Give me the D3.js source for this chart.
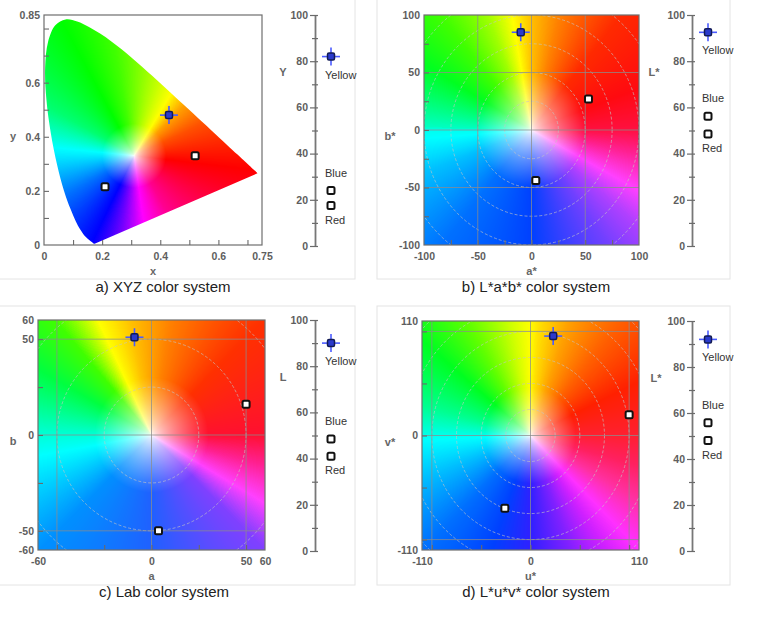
<!DOCTYPE html>
<html>
<head>
<meta charset="utf-8">
<script src="https://cdn.jsdelivr.net/npm/d3@7"></script>
<style>
  body { margin: 0; background: #fff; }
  svg { display: block; font-family: "Liberation Sans", Arial, sans-serif; }
  .tick text { font-weight: bold; fill: #5e5e5e; font-size: 10.5px; }
  .tick line { stroke: #6a6a6a; }
  .axt { font-weight: bold; fill: #666; font-size: 11px; }
  .cap { fill: #222; font-size: 15px; }
  .nm { fill: #333; font-size: 11px; }
</style>
</head>
<body>
<svg id="chart" width="768" height="620"></svg>
<script>
// ---- values ----
const samples = ["Yellow", "Blue", "Red"];

// a) CIE xy chromaticity and luminance Y
const xyX = [0.43, 0.21, 0.52];
const xyY = [0.48, 0.215, 0.33];
const lumY = [82, 24, 17.5];

// b) CIE L*a*b*
const labA = [-10, 4, 53];
const labB = [85, -44, 27];
const labL = [92.5, 56.2, 48.5];

// c) Hunter Lab
const hunA = [-9, 3.7, 50];
const hunB = [51, -50, 16];
const hunL = [90, 48.5, 41];

// d) CIE L*u*v*
const luvU = [23, -26, 100];
const luvV = [95.5, -70, 20];
const luvL = [92, 55.8, 48];

// spectral locus, 380..700 nm
const locusX = [0.1741, 0.1738, 0.1733, 0.1726, 0.1714, 0.1689, 0.1644, 0.1566, 0.1440, 0.1355, 0.1241,
  0.1096, 0.0913, 0.0687, 0.0454, 0.0235, 0.0082, 0.0039, 0.0139, 0.0389, 0.0743, 0.1142, 0.1547,
  0.1929, 0.2296, 0.2658, 0.3016, 0.3373, 0.3731, 0.4087, 0.4441, 0.4788, 0.5125, 0.5448, 0.5752,
  0.6029, 0.6270, 0.6482, 0.6658, 0.6801, 0.6915, 0.7006, 0.7079, 0.7140, 0.7190, 0.7260, 0.7300, 0.7347];
const locusY = [0.0050, 0.0049, 0.0048, 0.0048, 0.0051, 0.0069, 0.0109, 0.0177, 0.0297, 0.0399, 0.0578,
  0.0868, 0.1327, 0.2007, 0.2950, 0.4127, 0.5384, 0.6548, 0.7502, 0.8120, 0.8338, 0.8262, 0.8059,
  0.7816, 0.7543, 0.7243, 0.6923, 0.6589, 0.6245, 0.5896, 0.5547, 0.5202, 0.4866, 0.4544, 0.4242,
  0.3965, 0.3725, 0.3514, 0.3340, 0.3197, 0.3083, 0.2993, 0.2920, 0.2859, 0.2809, 0.2740, 0.2700, 0.2653];
const whitePoint = [0.31, 0.33];

// hue wheels (angle in degrees, counter-clockwise from +x)
const hueAngA = [-180, -150, -116, -100, -82, -60, -30, -7, 25, 45, 59, 80, 100, 118, 150, 174, 180];
const hueColA = ["#00e8ff", "#0070ff", "#0000ff", "#7000ff", "#ff00ff", "#ff0090", "#ff0040", "#ff0000",
  "#ff5000", "#ffa000", "#ffff00", "#a0ff00", "#40ff00", "#00ff00", "#00ff70", "#00ffff", "#00e8ff"];
const hueAngB = [-180, -176, -160, -130, -90, -55, -40, -28, -12, 0, 20, 50, 75, 90, 100, 112, 130, 150, 170, 178, 180];
const hueColB = ["#00fff0", "#00ffff", "#00c0ff", "#0070ff", "#0040ff", "#7040ff", "#b040ff", "#ff40ff",
  "#ff2090", "#ff1040", "#ff0a10", "#ff2a00", "#ff8000", "#ffc000", "#ffff00", "#a0ff00", "#40ff00",
  "#00ff20", "#00ff90", "#00ffc0", "#00fff0"];
const hueAngC = [-180, -170, -135, -90, -45, -31, -15, 0, 45, 80, 100, 115, 130, 150, 180];
const hueColC = ["#00ffd8", "#00ffff", "#0090ff", "#2060ff", "#8040ff", "#ff40ff", "#ff2090", "#ff1030",
  "#ff3000", "#ff8000", "#ffc000", "#ffff00", "#40ff00", "#00ff40", "#00ffd8"];
const hueAngD = [-180, -178, -160, -135, -110, -90, -70, -55, -45, -30, -15, 0, 25, 50, 70, 85, 90, 100, 120, 140, 165, 178, 180];
const hueColD = ["#00fff0", "#00ffff", "#00c0ff", "#0070ff", "#0040ff", "#3020ff", "#8020ff", "#d020ff",
  "#ff30ff", "#ff30a0", "#ff2060", "#ff2030", "#ff2000", "#ff6000", "#ffa000", "#ffe000", "#ffff00",
  "#d0ff00", "#60ff00", "#00ff20", "#00ff90", "#00ffe0", "#00fff0"];

const svg = d3.select("#chart");
const defs = svg.append("defs");

function hueWheel(angles, colors) {
  const s = d3.scaleLinear().domain(angles).range(colors).interpolate(d3.interpolateRgb).clamp(true);
  const lut = d3.range(720).map(k => d3.rgb(s(k / 2 - 180)));
  return a => lut[Math.max(0, Math.min(719, Math.floor((a + 180) * 2)))];
}

// paints a white-centred colour wheel; probe(px, py) -> [angle, t]
function fieldImage(w, h, wheel, probe) {
  const cv = document.createElement("canvas");
  cv.width = w; cv.height = h;
  const ctx = cv.getContext("2d");
  const img = ctx.createImageData(w, h);
  let k = 0;
  for (let j = 0; j < h; j++) {
    for (let i = 0; i < w; i++) {
      const [ang, t0] = probe(i + 0.5, j + 0.5);
      const t = Math.pow(Math.min(1, t0), 0.7);
      const c = wheel(ang);
      img.data[k++] = 255 + (c.r - 255) * t;
      img.data[k++] = 255 + (c.g - 255) * t;
      img.data[k++] = 255 + (c.b - 255) * t;
      img.data[k++] = 255;
    }
  }
  ctx.putImageData(img, 0, 0);
  return cv.toDataURL();
}

function drawPanel(p) {
  const g = svg.append("g");
  g.append("rect").attr("x", p.frame[0]).attr("y", p.frame[1])
    .attr("width", p.frame[2]).attr("height", p.frame[3])
    .attr("fill", "none").attr("stroke", "#e4e4e4");

  const x = d3.scaleLinear().domain(p.xDomain).range([p.x0, p.x1]);
  const y = d3.scaleLinear().domain(p.yDomain).range([p.y1, p.y0]);
  const w = p.x1 - p.x0, h = p.y1 - p.y0;

  // colour field
  let probe;
  if (p.locus) {
    const cx = x(whitePoint[0]), cy = y(whitePoint[1]);
    probe = (i, j) => {
      const dx = p.x0 + i - cx, dy = cy - (p.y0 + j);
      return [Math.atan2(dy, dx) * 180 / Math.PI, Math.hypot(dx, dy) / p.R0];
    };
  } else {
    probe = (i, j) => {
      const dx = x.invert(p.x0 + i), dy = y.invert(p.y0 + j);
      return [Math.atan2(dy, dx) * 180 / Math.PI, Math.hypot(dx, dy) / p.R0];
    };
  }
  const url = fieldImage(w, h, hueWheel(p.hueAng, p.hueCol), probe);

  const clipId = "clip" + p.id;
  const clip = defs.append("clipPath").attr("id", clipId);
  if (p.locus) {
    const line = d3.line()
      .x(i => x(locusX[i])).y(i => y(locusY[i]))
      .curve(d3.curveCatmullRom);
    clip.append("path").attr("d", line(d3.range(locusX.length)) + "Z");
  } else {
    clip.append("rect").attr("x", p.x0).attr("y", p.y0).attr("width", w).attr("height", h);
  }
  g.append("image").attr("href", url).attr("x", p.x0).attr("y", p.y0)
    .attr("width", w).attr("height", h).attr("preserveAspectRatio", "none")
    .attr("clip-path", `url(#${clipId})`);

  // rings and grid
  const over = g.append("g").attr("clip-path", `url(#${clipId})`);
  over.selectAll("ellipse").data(p.rings).join("ellipse")
    .attr("cx", x(0)).attr("cy", y(0))
    .attr("rx", r => x(r) - x(0)).attr("ry", r => y(0) - y(r))
    .attr("fill", "none").attr("stroke", "#c4c4c4").attr("stroke-opacity", 0.7)
    .attr("stroke-width", 0.9).attr("stroke-dasharray", "3,2");
  over.selectAll("line.gx").data(p.grid).join("line").attr("class", "gx")
    .attr("x1", d => x(d)).attr("x2", d => x(d)).attr("y1", p.y0).attr("y2", p.y1)
    .attr("stroke", "#8c8c8c").attr("stroke-opacity", 0.75);
  over.selectAll("line.gy").data(p.grid).join("line").attr("class", "gy")
    .attr("y1", d => y(d)).attr("y2", d => y(d)).attr("x1", p.x0).attr("x2", p.x1)
    .attr("stroke", "#8c8c8c").attr("stroke-opacity", 0.75);

  g.append("rect").attr("x", p.x0).attr("y", p.y0).attr("width", w).attr("height", h)
    .attr("fill", "none").attr("stroke", "#6e6e6e").attr("stroke-width", 1.2);

  // axes: labels and inward ticks
  const fmt = d => String(d);
  const xb = g.append("g").attr("transform", `translate(0,${p.y1})`)
    .call(d3.axisBottom(x).tickValues(p.xLabels).tickSize(0).tickPadding(8).tickFormat(fmt));
  const xt = g.append("g").attr("transform", `translate(0,${p.y1})`)
    .call(d3.axisBottom(x).tickValues(p.xTicks).tickSize(-5).tickFormat(""));
  const yl = g.append("g").attr("transform", `translate(${p.x0},0)`)
    .call(d3.axisLeft(y).tickValues(p.yLabels).tickSize(0).tickPadding(4).tickFormat(fmt));
  const yt = g.append("g").attr("transform", `translate(${p.x0},0)`)
    .call(d3.axisLeft(y).tickValues(p.yTicks).tickSize(-5).tickFormat(""));
  [xb, xt, yl, yt].forEach(a => a.select(".domain").remove());
  g.selectAll(".tick line").attr("stroke-width", 1.1);

  g.append("text").attr("class", "axt").attr("x", (p.x0 + p.x1) / 2).attr("y", p.y1 + 30)
    .attr("text-anchor", "middle").text(p.xTitle);
  g.append("text").attr("class", "axt").attr("x", p.yTitleX).attr("y", (p.y0 + p.y1) / 2 + 10)
    .attr("text-anchor", "middle").text(p.yTitle);

  // sample points
  const pts = g.append("g");
  samples.forEach((s, i) => marker(pts, x(p.h[i]), y(p.v[i]), s === "Yellow"));

  // lightness side axis
  const L = d3.scaleLinear().domain([0, 100]).range([p.y1 + 1, p.y0]);
  const side = g.append("g").attr("transform", `translate(${p.side},0)`);
  side.call(d3.axisLeft(L).tickValues([0, 20, 40, 60, 80, 100]).tickSize(5).tickSizeOuter(0).tickPadding(2));
  side.append("g").call(d3.axisLeft(L).tickValues([10, 30, 50, 70, 90]).tickSize(3).tickFormat(""))
    .select(".domain").remove();
  side.append("g").call(d3.axisRight(L).tickValues(d3.range(0, 101, 10)).tickSize(3).tickFormat(""))
    .select(".domain").remove();
  side.selectAll(".domain").attr("stroke", "#777").attr("stroke-width", 1.8);
  side.selectAll(".tick line").attr("stroke", "#777").attr("stroke-width", 1.2);
  g.append("text").attr("class", "axt").attr("x", p.lTitleX).attr("y", p.y0 + 61)
    .attr("text-anchor", "middle").text(p.lTitle);

  const off = { Yellow: 18, Blue: -18, Red: 14 };
  samples.forEach((s, i) => {
    const my = L(p.L[i]);
    marker(g, p.side + 16, my, s === "Yellow");
    g.append("text").attr("class", "nm").attr("x", p.side + 10).attr("y", my + off[s] + 4).text(s);
  });

  g.append("text").attr("class", "cap").attr("x", p.capX).attr("y", p.capY)
    .attr("text-anchor", "middle").text(p.caption);
}

function marker(sel, cx, cy, cross) {
  if (cross) {
    sel.append("line").attr("x1", cx - 9).attr("x2", cx + 9).attr("y1", cy).attr("y2", cy)
      .attr("stroke", "#4b5bff").attr("stroke-width", 1.6);
    sel.append("line").attr("x1", cx).attr("x2", cx).attr("y1", cy - 9).attr("y2", cy + 9)
      .attr("stroke", "#4b5bff").attr("stroke-width", 1.6);
    sel.append("rect").attr("x", cx - 3.5).attr("y", cy - 3.5).attr("width", 7).attr("height", 7)
      .attr("rx", 1.5).attr("fill", "#2a3acc").attr("stroke", "#111a55").attr("stroke-width", 1.5);
  } else {
    sel.append("rect").attr("x", cx - 3.5).attr("y", cy - 3.5).attr("width", 7).attr("height", 7)
      .attr("rx", 1.5).attr("fill", "#fff").attr("stroke", "#111").attr("stroke-width", 2);
  }
}

drawPanel({
  id: "a", frame: [-1, -1, 356, 280], locus: true,
  x0: 44, x1: 262, y0: 15, y1: 245, xDomain: [0, 0.75], yDomain: [0, 0.85],
  xLabels: [0, 0.2, 0.4, 0.6, 0.75], xTicks: d3.range(1, 8).map(k => k / 10),
  yLabels: [0, 0.2, 0.4, 0.6, 0.85], yTicks: d3.range(1, 9).map(k => k / 10),
  grid: [], rings: [], R0: 32, hueAng: hueAngA, hueCol: hueColA,
  xTitle: "x", yTitle: "y", yTitleX: 13, lTitle: "Y", lTitleX: 283, side: 315,
  h: xyX, v: xyY, L: lumY, caption: "a) XYZ color system", capX: 163, capY: 292
});

drawPanel({
  id: "b", frame: [377, -1, 353, 280],
  x0: 424, x1: 639, y0: 15, y1: 245, xDomain: [-100, 100], yDomain: [-100, 100],
  xLabels: [-100, -50, 0, 50, 100], xTicks: [-75, -50, -25, 0, 25, 50, 75],
  yLabels: [-100, -50, 0, 50, 100], yTicks: [-75, -50, -25, 0, 25, 50, 75],
  grid: [-50, 0, 50], rings: [25, 50, 75, 100, 125], R0: 50, hueAng: hueAngB, hueCol: hueColB,
  xTitle: "a*", yTitle: "b*", yTitleX: 390, lTitle: "L*", lTitleX: 654, side: 692,
  h: labA, v: labB, L: labL, caption: "b) L*a*b* color system", capX: 536, capY: 292
});

drawPanel({
  id: "c", frame: [-1, 306, 356, 279],
  x0: 38, x1: 265, y0: 320, y1: 550, xDomain: [-60, 60], yDomain: [-60, 60],
  xLabels: [-60, 0, 50, 60], xTicks: [-50, -25, 0, 25, 50],
  yLabels: [-60, -50, 0, 50, 60], yTicks: [-50, -25, 0, 25, 50],
  grid: [-50, 0, 50], rings: [25, 50, 75], R0: 30, hueAng: hueAngC, hueCol: hueColC,
  xTitle: "a", yTitle: "b", yTitleX: 13, lTitle: "L", lTitleX: 283, side: 315,
  h: hunA, v: hunB, L: hunL, caption: "c) Lab color system", capX: 164, capY: 597
});

drawPanel({
  id: "d", frame: [377, 306, 353, 279],
  x0: 422, x1: 639, y0: 321, y1: 550, xDomain: [-110, 110], yDomain: [-110, 110],
  xLabels: [-110, 0, 110], xTicks: [-100, -50, 0, 50, 100],
  yLabels: [-110, 0, 110], yTicks: [-100, -50, 0, 50, 100],
  grid: [-100, 0, 100], rings: [25, 50, 75, 100, 125, 150], R0: 46, hueAng: hueAngD, hueCol: hueColD,
  xTitle: "u*", yTitle: "v*", yTitleX: 390, lTitle: "L*", lTitleX: 656, side: 692,
  h: luvU, v: luvV, L: luvL, caption: "d) L*u*v* color system", capX: 536, capY: 597
});
</script>
</body>
</html>
